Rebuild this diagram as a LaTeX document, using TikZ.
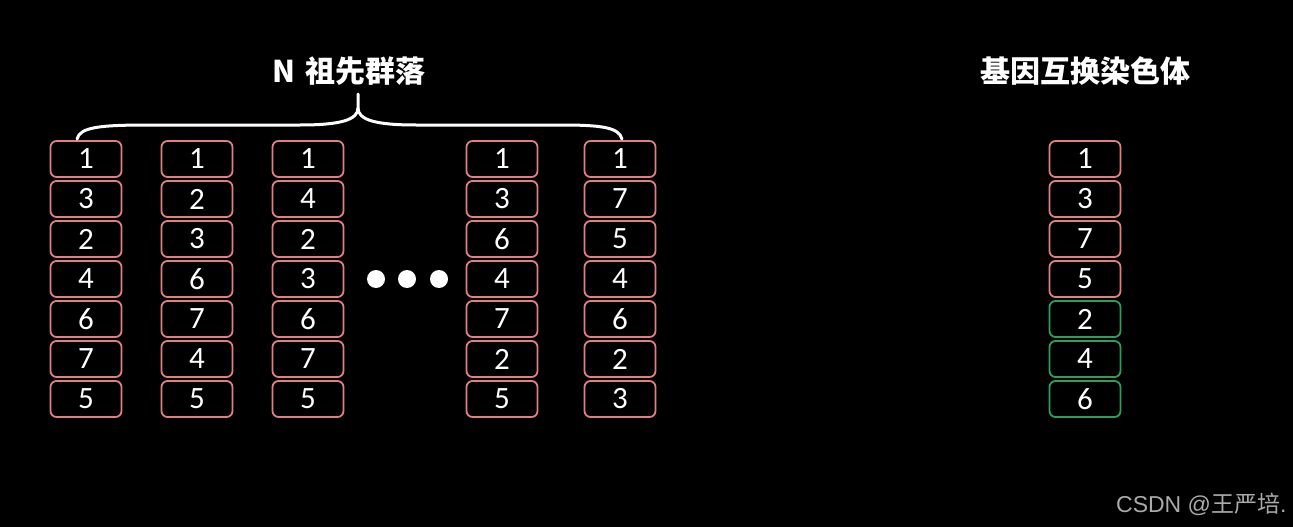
\documentclass[tikz,border=0pt]{standalone}
\usepackage{fontspec}
\setmainfont{Carlito}
\newfontfamily\cjk{Noto Sans CJK SC}
\newfontfamily\cjkblack{Noto Sans CJK SC Black}
\newfontfamily\wmfont{Liberation Sans}
\definecolor{boxred}{HTML}{E08080}
\definecolor{boxgreen}{HTML}{2E9E5E}
\definecolor{wmgray}{HTML}{AAAAAA}
\begin{document}
\begin{tikzpicture}[x=1pt,y=-1pt,
  cell/.style={draw=boxred,line width=1.8pt,rounded corners=6pt,minimum width=71pt,minimum height=36pt,inner sep=0pt,text=white,font=\fontsize{31}{32}\selectfont},
  gcell/.style={cell,draw=boxgreen},
  dot/.style={circle,fill=white,minimum size=18pt,inner sep=0pt},
  title/.style={text=white,font=\cjkblack\fontsize{30}{32}\selectfont},
  brace/.style={draw=white,line width=3pt,line cap=round,line join=round}]
\fill[black] (0,0) rectangle (1293,527);
\useasboundingbox (0,0) rectangle (1293,527);
% columns
\foreach \col/\x/\vals in {a/86/{1,3,2,4,6,7,5}, b/197/{1,2,3,6,7,4,5}, c/308/{1,4,2,3,6,7,5}, d/502/{1,3,6,4,7,2,5}, e/620/{1,7,5,4,6,2,3}}{
  \foreach \v [count=\i] in \vals {
    \node[cell] (\col\i) at (\x,{159+40*(\i-1)}) {\v};
  }
}
% result column
\foreach \v/\st [count=\i] in {1/cell,3/cell,7/cell,5/cell,2/gcell,4/gcell,6/gcell}{
  \node[\st] (r\i) at (1085,{159+40*(\i-1)}) {\v};
}
% dots
\node[dot] (d1) at (376,279) {};
\node[dot] (d2) at (407,279) {};
\node[dot] (d3) at (439,279) {};
% titles
\node[title] (t1) at (349,71) {N\hspace{0.35em}祖先群落};
\node[title] (t2) at (1085,71) {基因互换染色体};
% brace
\coordinate (bl) at (77,139);
\coordinate (br) at (622,139);
\coordinate (bt) at (358,94);
\draw[brace] (bl) .. controls (80,127) and (100,125) .. (150,125) -- (300,125)
  .. controls (340,125) and (358,120) .. (358,108) -- (bt);
\draw[brace] (br) .. controls (619,127) and (600,125) .. (560,125) -- (416,125)
  .. controls (376,125) and (358,120) .. (358,108);
% watermark
\node[anchor=east,text=wmgray,font=\wmfont\fontsize{23}{24}\selectfont] (wm) at (1290,504) {CSDN @{\cjk 王严培}.};
\end{tikzpicture}
\end{document}
